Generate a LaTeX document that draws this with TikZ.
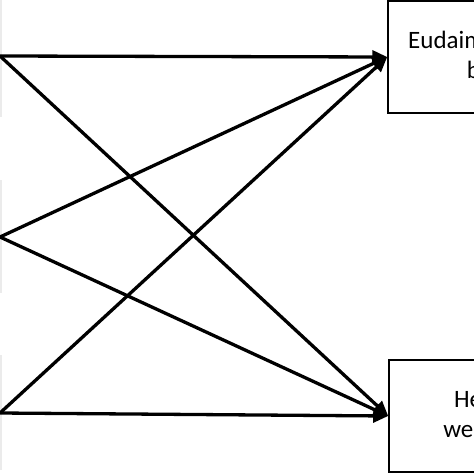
\documentclass[tikz,border=0pt]{standalone}
\usepackage{fontspec}
\setmainfont{Carlito}
\usetikzlibrary{arrows.meta}
\begin{document}
\begin{tikzpicture}[x=1pt,y=-1pt,
  outbox/.style={draw=black,line width=1.5pt,minimum width=214pt,minimum height=112pt,
    inner sep=0pt,align=center,font=\fontsize{25}{30}\selectfont},
  link/.style={line width=3.3pt,-{Triangle[length=15pt,width=13pt]}},
  faint/.style={draw=black!8,line width=1.2pt}]
\useasboundingbox (0,0) rectangle (474,474);
\clip (0,0) rectangle (474,474);
\fill[white] (0,0) rectangle (474,474);
\draw[faint] (1,0) -- (1,117);
\draw[faint] (1,180) -- (1,293);
\draw[faint] (1,355) -- (1,470);
\node[outbox] (eud) at (495,57) {Eudaimonic well-\\being};
\node[outbox] (hed) at (496,416) {Hedonic\\well-being};
\coordinate (s1) at (0,56);
\coordinate (s2) at (0,237);
\coordinate (s3) at (0,413);
\draw[link] (s1) -- (eud.west);
\draw[link] (s1) -- (hed.west);
\draw[link] (s2) -- (eud.west);
\draw[link] (s2) -- (hed.west);
\draw[link] (s3) -- (eud.west);
\draw[link] (s3) -- (hed.west);
\end{tikzpicture}
\end{document}
